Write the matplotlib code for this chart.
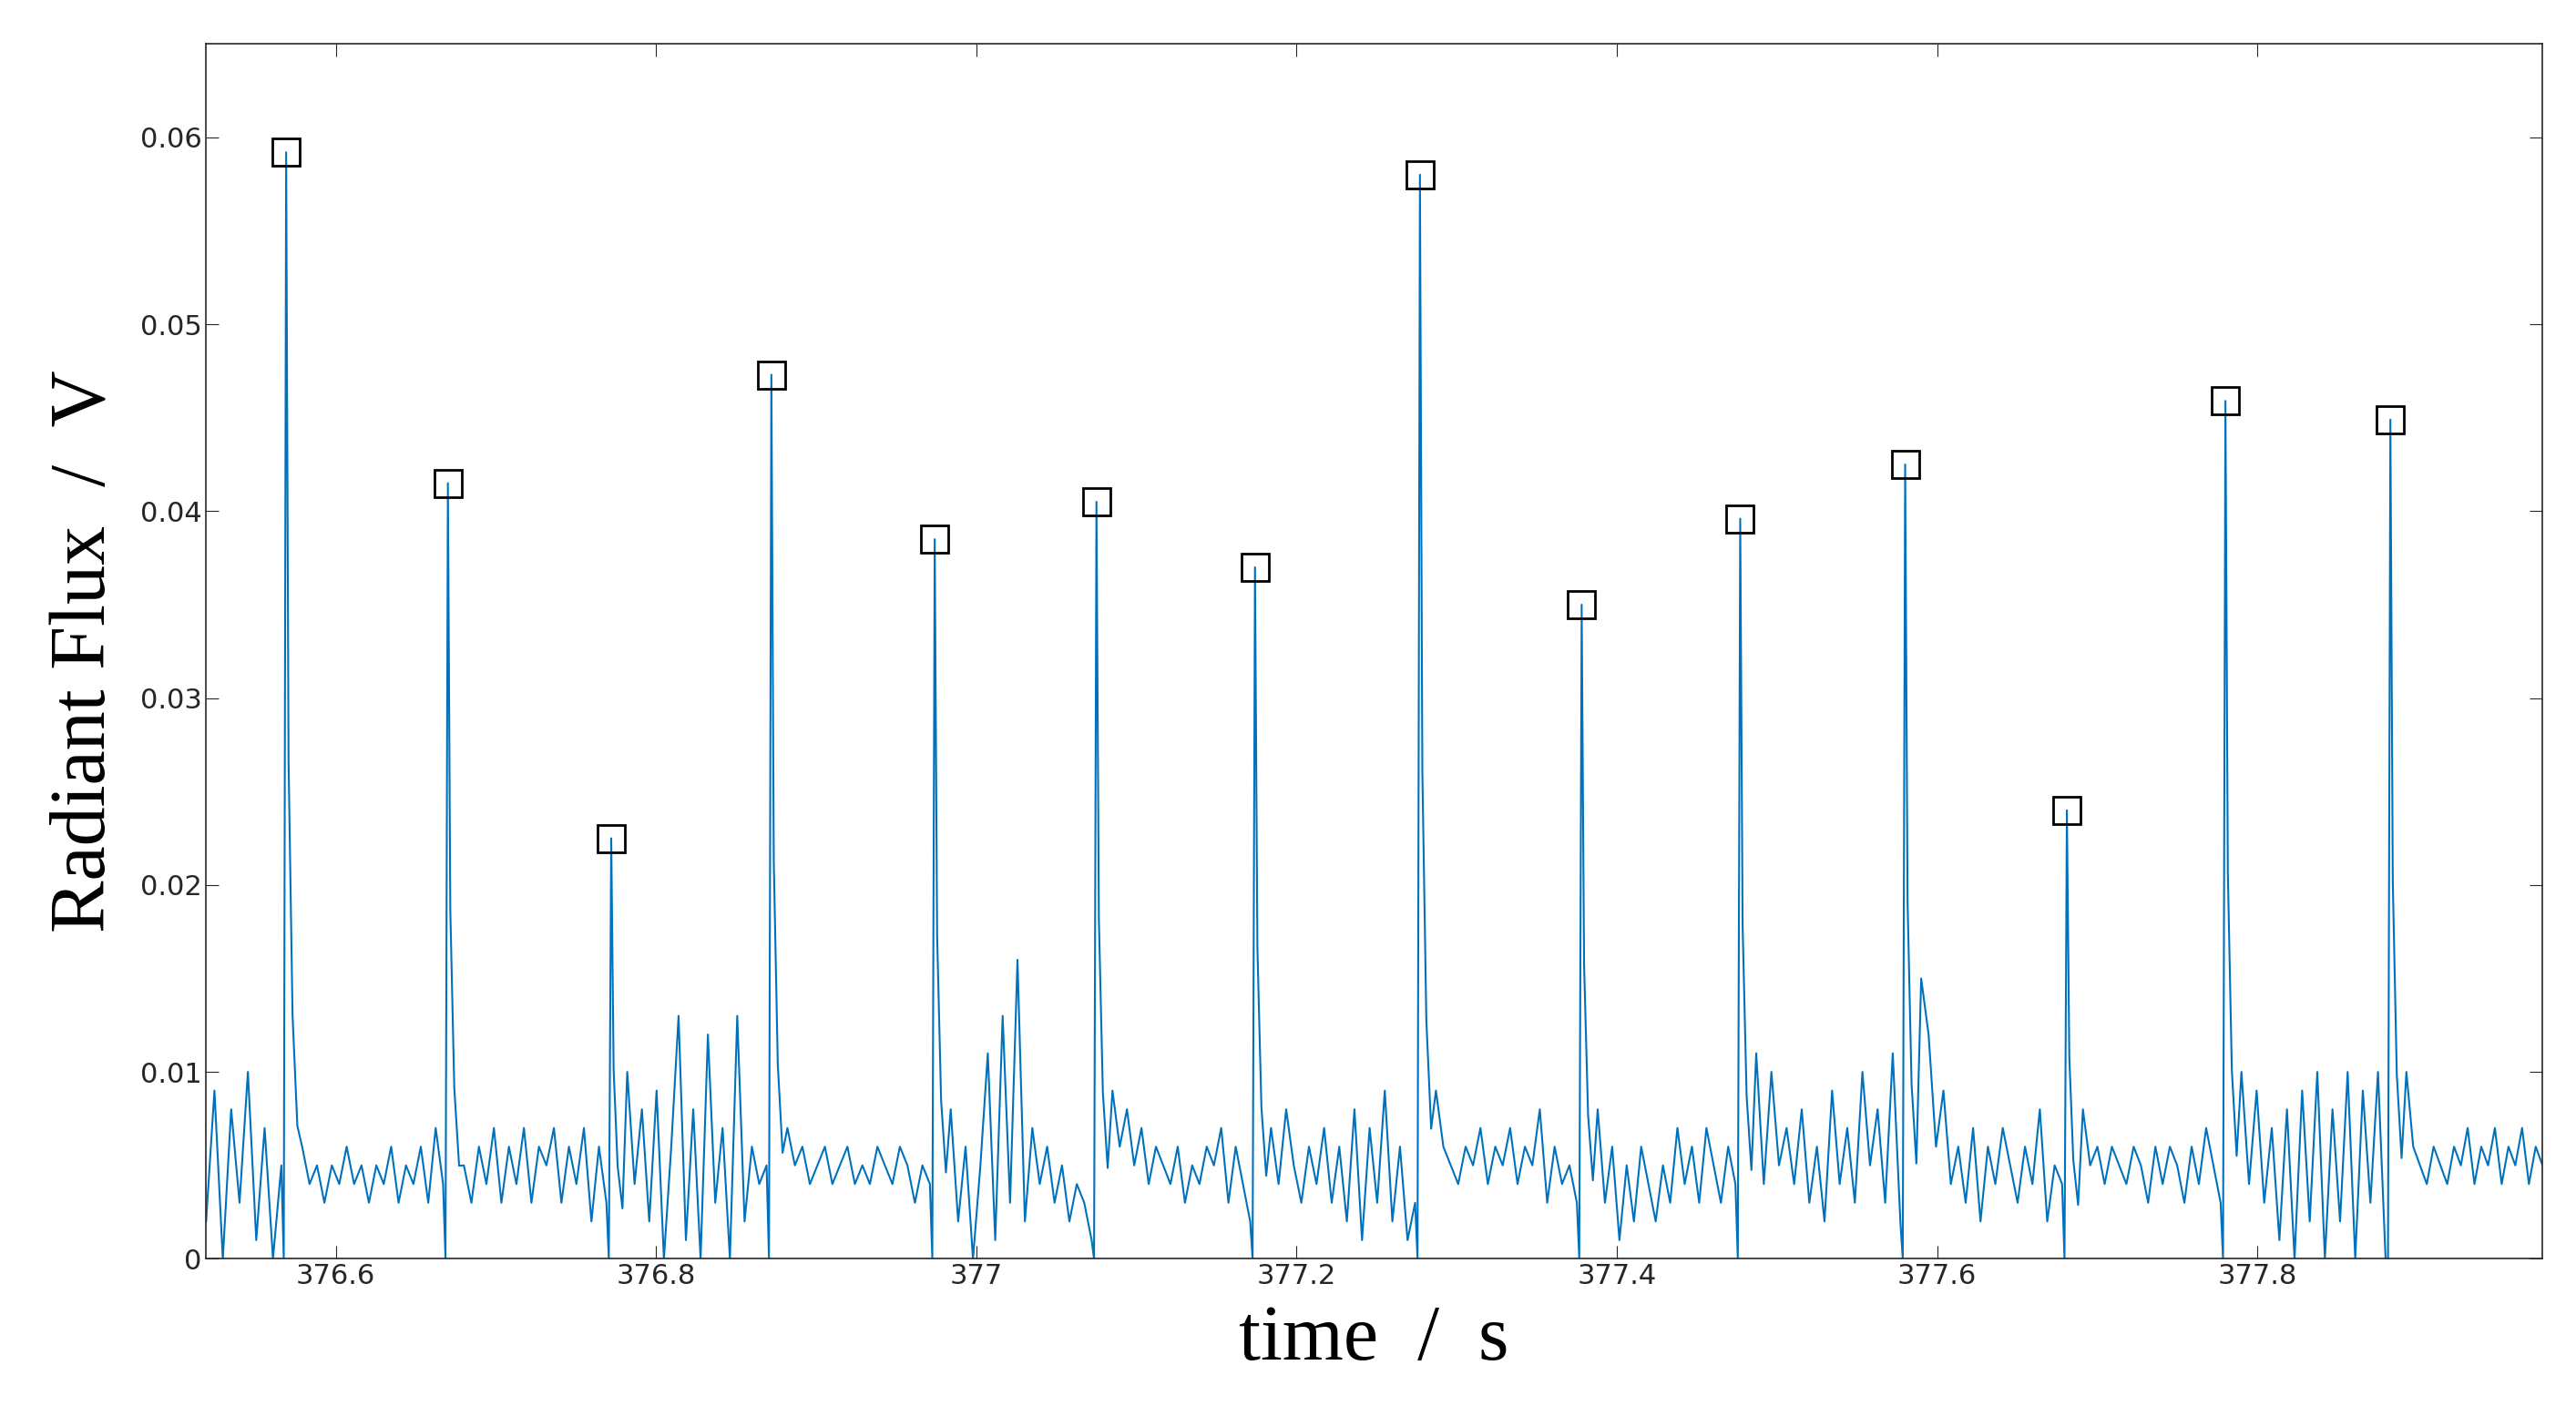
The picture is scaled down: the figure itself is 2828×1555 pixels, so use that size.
import numpy as np
import matplotlib
matplotlib.use("Agg")
import matplotlib.pyplot as plt

peak_t = [376.569, 376.670, 376.772, 376.872, 376.974, 377.075, 377.174, 377.277,
          377.378, 377.477, 377.580, 377.681, 377.780, 377.883]
peak_v = [0.0592, 0.0415, 0.0225, 0.0473, 0.0385, 0.0405, 0.0370, 0.0580,
          0.0350, 0.0396, 0.0425, 0.0240, 0.0459, 0.0449]

noise = [
 [0.002,0.009,0.0,0.008,0.003,0.010,0.001,0.007,0.0,0.005],
 [0.006,0.004,0.005,0.003,0.005,0.004,0.006,0.004,0.005,0.003,0.005,0.004,0.006,0.003,0.005,0.004,0.006,0.003,0.007,0.004],
 [0.005,0.003,0.006,0.004,0.007,0.003,0.006,0.004,0.007,0.003,0.006,0.005,0.007,0.003,0.006,0.004,0.007,0.002,0.006,0.003],
 [0.010,0.004,0.008,0.002,0.009,0.0,0.006,0.013,0.001,0.008,0.0,0.012,0.003,0.007,0.0,0.013,0.002,0.006,0.004,0.005],
 [0.007,0.005,0.006,0.004,0.005,0.006,0.004,0.005,0.006,0.004,0.005,0.004,0.006,0.005,0.004,0.006,0.005,0.003,0.005,0.004],
 [0.008,0.002,0.006,0.0,0.005,0.011,0.001,0.013,0.003,0.016,0.002,0.007,0.004,0.006,0.003,0.005,0.002,0.004,0.003,0.001],
 [0.009,0.006,0.008,0.005,0.007,0.004,0.006,0.005,0.004,0.006,0.003,0.005,0.004,0.006,0.005,0.007,0.003,0.006,0.004,0.002],
 [0.007,0.004,0.008,0.005,0.003,0.006,0.004,0.007,0.003,0.006,0.002,0.008,0.001,0.007,0.003,0.009,0.002,0.006,0.001,0.003],
 [0.009,0.006,0.005,0.004,0.006,0.005,0.007,0.004,0.006,0.005,0.007,0.004,0.006,0.005,0.008,0.003,0.006,0.004,0.005,0.003],
 [0.008,0.003,0.006,0.001,0.005,0.002,0.006,0.004,0.002,0.005,0.003,0.007,0.004,0.006,0.003,0.007,0.005,0.003,0.006,0.004],
 [0.011,0.004,0.010,0.005,0.007,0.004,0.008,0.003,0.006,0.002,0.009,0.004,0.007,0.003,0.010,0.005,0.008,0.003,0.011,0.002],
 [0.015,0.012,0.006,0.009,0.004,0.006,0.003,0.007,0.002,0.006,0.004,0.007,0.005,0.003,0.006,0.004,0.008,0.002,0.005,0.004],
 [0.008,0.005,0.006,0.004,0.006,0.005,0.004,0.006,0.005,0.003,0.006,0.004,0.006,0.005,0.003,0.006,0.004,0.007,0.005,0.003],
 [0.010,0.004,0.009,0.003,0.007,0.001,0.008,0.0,0.009,0.002,0.010,0.0,0.008,0.002,0.010,0.0,0.009,0.003,0.010,0.0],
 [0.010,0.006,0.005,0.004,0.006,0.005,0.004,0.006,0.005,0.007,0.004,0.006,0.005,0.007,0.004,0.006,0.005,0.007,0.004,0.006,0.005],
]
spike_dt = [-0.0015, 0.0, 0.0015, 0.004, 0.007]
spike_frac = [0.0, 1.0, 0.45, 0.22, 0.12]

x0, x1 = 376.519, 377.978
bounds = [x0] + [t + 0.010 for t in peak_t]
ends = [t - 0.003 for t in peak_t] + [x1]
ts, vs = [], []
for seg, a, b in zip(noise, bounds, ends):
    ts += list(np.linspace(a, b, len(seg))); vs += seg
for t, h in zip(peak_t, peak_v):
    for dt, f in zip(spike_dt, spike_frac):
        ts.append(t + dt); vs.append(h * f)
order = np.argsort(ts)
ts = np.array(ts)[order]; vs = np.array(vs)[order]

fig = plt.figure(figsize=(28.28, 15.55), dpi=100)
ax = fig.add_axes([0.080, 0.111, 0.907, 0.858])
ax.plot(ts, vs, color='#0072BD', lw=1.5)
ax.plot(peak_t, peak_v, 's', mfc='none', mec='black', ms=22, mew=2)
ax.set_xlim(x0, x1); ax.set_ylim(0, 0.065)
ax.set_xticks([376.6, 376.8, 377, 377.2, 377.4, 377.6, 377.8])
ax.set_xticklabels(['376.6', '376.8', '377', '377.2', '377.4', '377.6', '377.8'])
ax.set_yticks([0, 0.01, 0.02, 0.03, 0.04, 0.05, 0.06])
ax.set_yticklabels(['0', '0.01', '0.02', '0.03', '0.04', '0.05', '0.06'])
ax.tick_params(labelsize=22, colors='#262626', direction='in', length=10, top=True, right=True)
for s in ax.spines.values():
    s.set_color('#262626'); s.set_linewidth(1.2)
ax.set_xlabel('time  /  s', family='Liberation Serif', fontsize=62, labelpad=12)
ax.set_ylabel('Radiant Flux  /  V', family='Liberation Serif', fontsize=62, labelpad=14)
fig.savefig('out.png', dpi=100)
